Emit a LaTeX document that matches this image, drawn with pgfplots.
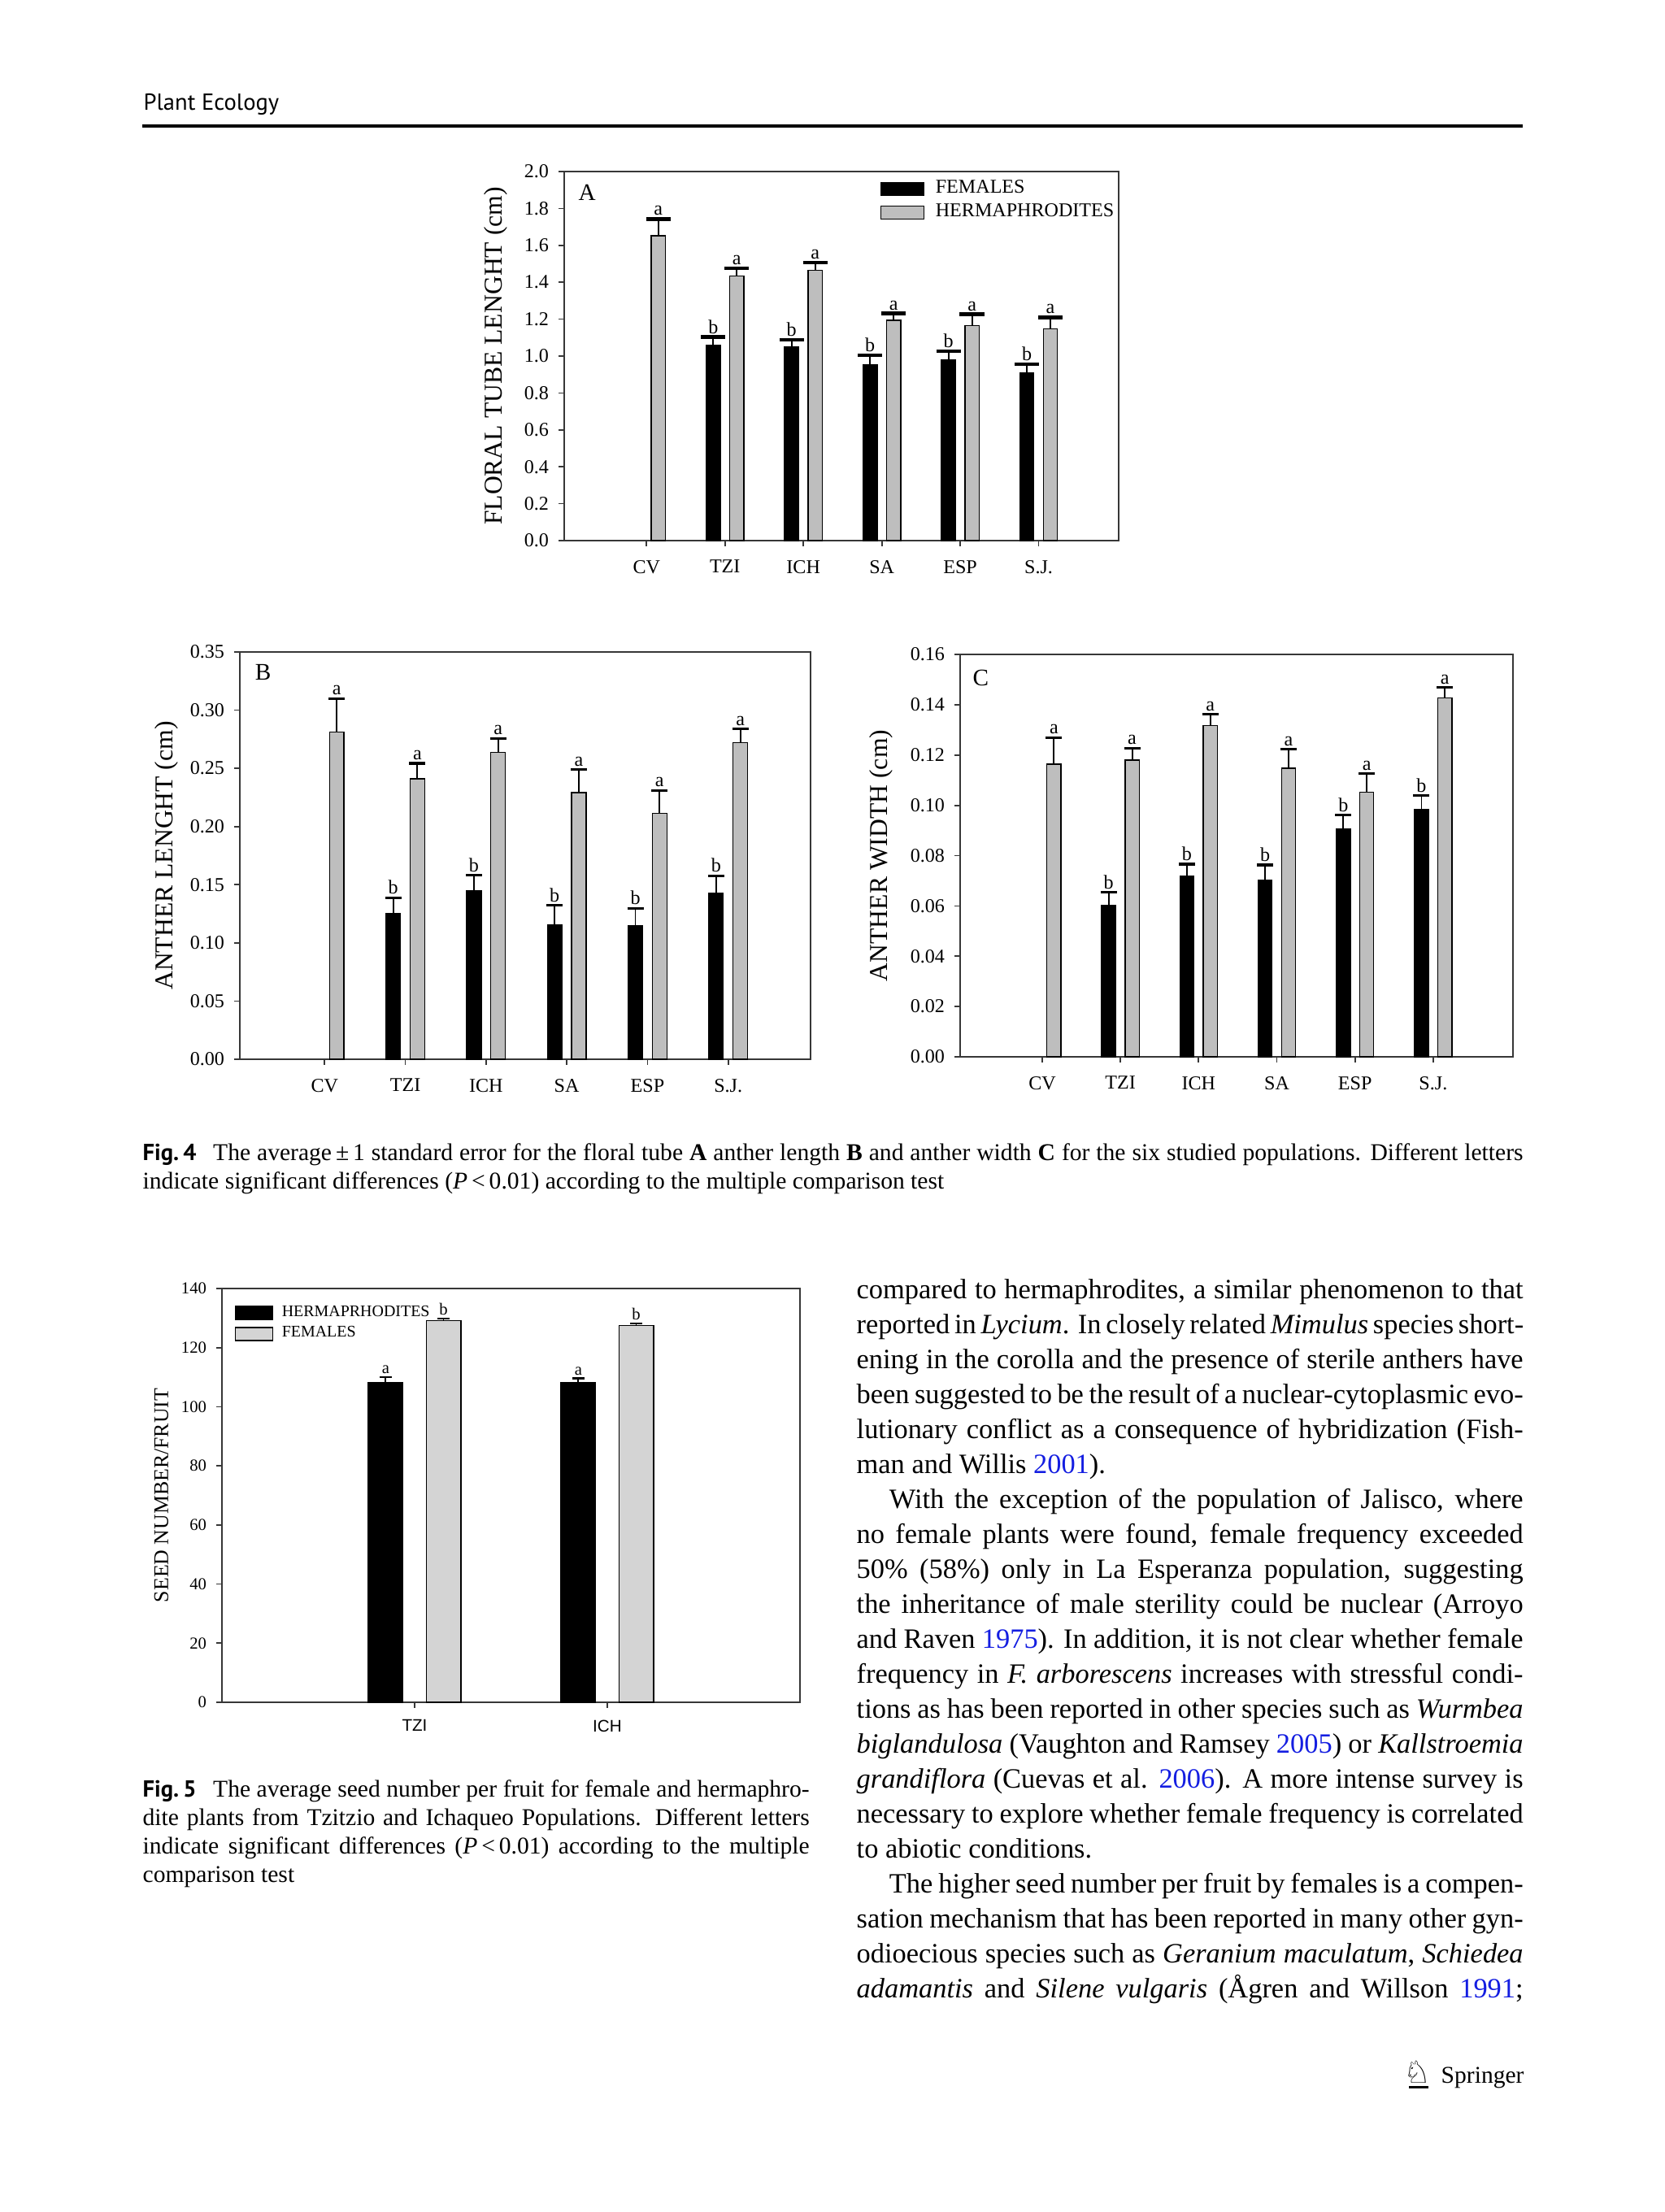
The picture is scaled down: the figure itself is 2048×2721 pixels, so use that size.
\documentclass[border=0pt]{standalone}
\usepackage{fontspec}
\setmainfont{Liberation Serif}
\newfontfamily\headfont{PT Sans}
\newfontfamily\arial{Liberation Sans}
\newfontfamily\dejavu{DejaVu Sans}
\usepackage{pgfplots}
\usepackage{pgfplotstable}
\pgfplotsset{compat=1.18}

\definecolor{hgray}{RGB}{190,190,190}
\definecolor{lgray}{RGB}{212,212,212}
\definecolor{linkblue}{RGB}{20,30,225}
\definecolor{frame}{RGB}{55,55,55}

% floral tube length, A
\pgfplotstableread{
x  v     e
1  1.058 0.046
2  1.049 0.040
3  0.952 0.053
4  0.979 0.048
5  0.908 0.048
}\tubeF
\pgfplotstableread{
x  v     e
0  1.652 0.091
1  1.435 0.042
2  1.466 0.041
3  1.194 0.037
4  1.165 0.062
5  1.148 0.062
}\tubeH
% anther length, B
\pgfplotstableread{
x  v      e
1  0.1252 0.0137
2  0.1448 0.0134
3  0.1154 0.0168
4  0.1146 0.0152
5  0.1427 0.0150
}\lenF
\pgfplotstableread{
x  v      e
0  0.2814 0.0286
1  0.2411 0.0132
2  0.2636 0.0123
3  0.2292 0.0196
4  0.2112 0.0198
5  0.2723 0.0114
}\lenH
% anther width, C
\pgfplotstableread{
x  v      e
1  0.0601 0.0053
2  0.0718 0.0048
3  0.0702 0.0061
4  0.0906 0.0055
5  0.0984 0.0054
}\widF
\pgfplotstableread{
x  v      e
0  0.1164 0.0106
1  0.1180 0.0048
2  0.1317 0.0045
3  0.1148 0.0075
4  0.1053 0.0073
5  0.1427 0.0041
}\widH
% seeds per fruit, Fig. 5
\pgfplotstableread{
x  v     e
1  108.2 1.9
2  108.1 1.5
}\seedH
\pgfplotstableread{
x  v     e
1  129.1 0.8
2  127.5 0.6
}\seedF

\pgfplotsset{
  base/.style={
    scale only axis, anchor=south west, ybar, ymin=0,
    enlargelimits=false, clip=false,
    tick pos=left, tick align=outside, major tick length=2pt,
    axis line style={frame, line width=0.5pt},
    tick style={frame, line width=0.5pt},
    /pgf/number format/assume math mode=true,
    ylabel style={anchor=center},
    legend cell align=left,
  },
  pop/.style={
    xmin=-1.05, xmax=6.02,
    xtick={0,1,2,3,4,5}, xticklabels={CV,TZI,ICH,SA,ESP,S.J.},
    ticklabel style={font=\fontsize{7}{8}\selectfont},
    xticklabel style={yshift=-1.5pt},
    yticklabel style={/pgf/number format/fixed, /pgf/number format/fixed zerofill, /pgf/number format/precision=#1},
    ylabel style={font=\fontsize{9.2}{10}\selectfont},
    every node near coord/.append style={font=\fontsize{7}{8}\selectfont, inner sep=1pt},
  },
  bars/.style n args={4}{
    fill=#1, draw=black, line width=0.4pt, bar width=0.18, bar shift=#2,
    error bars/.cd, y dir=plus, y explicit,
    error bar style={black, line width=0.55pt},
    error mark=-, error mark options={black, rotate=90, line width=#4, mark size=#3},
  },
  tags/.style 2 args={draw=none, fill=none, bar width=0.18, bar shift=#1, nodes near coords={#2}},
}

\newcommand\jl[1]{\hbox to 238.35pt{#1}}
\newcommand\yr[1]{\textcolor{linkblue}{#1}}
\newcommand\figlab[1]{{\headfont\bfseries\fontsize{8.3}{10}\selectfont #1}\hskip 6pt}

\begin{document}
\begin{tikzpicture}
\begin{scope}[x=0.290674pt, y=-0.290674pt]
\fill[white] (0,0) rectangle (2048,2721);
\useasboundingbox (0,0) rectangle (2048,2721);

% running head
\node[anchor=base west, inner sep=0pt, font=\headfont\fontsize{8.3}{10}\selectfont] at (176,135) {Plant Ecology};
\draw[line width=1pt] (175,155) -- (1873,155);

% caption of Fig. 4
\node[anchor=base west, inner sep=0pt] at (175,1427) {\vtop{\fontsize{8.6}{10.2}\selectfont
\hbox to 493.56pt{\figlab{Fig.\kern1.5pt4}The average\,±\,1 standard error for the floral tube \textbf{A} anther length \textbf{B} and anther width \textbf{C} for the six studied populations. Different letters}
\hbox{indicate significant differences (\textit{P}\,<\,0.01) according to the multiple comparison test}}};

% caption of Fig. 5
\node[anchor=base west, inner sep=0pt] at (175,2210) {\vtop{\fontsize{8.6}{10.2}\selectfont
\jl{\figlab{Fig.\kern1.5pt5}The average seed number per fruit for female and hermaphro-}
\jl{dite plants from Tzitzio and Ichaqueo Populations. Different letters}
\jl{indicate significant differences (\textit{P}\,<\,0.01) according to the multiple}
\hbox{comparison test}}};

% running text, right column
\node[anchor=base west, inner sep=0pt] at (1053,1597) {\vtop{\fontsize{10}{12.5}\selectfont
\jl{compared to hermaphrodites, a similar phenomenon to that}
\jl{reported in \textit{Lycium}. In closely related \textit{Mimulus} species short-}
\jl{ening in the corolla and the presence of sterile anthers have}
\jl{been suggested to be the result of a nuclear-cytoplasmic evo-}
\jl{lutionary conflict as a consequence of hybridization (Fish-}
\hbox{man and Willis \yr{2001}).}
\jl{\hskip 11.7pt With the exception of the population of Jalisco, where}
\jl{no female plants were found, female frequency exceeded}
\jl{50\% (58\%) only in La Esperanza population, suggesting}
\jl{the inheritance of male sterility could be nuclear (Arroyo}
\jl{and Raven \yr{1975}). In addition, it is not clear whether female}
\jl{frequency in \textit{F. arborescens} increases with stressful condi-}
\jl{tions as has been reported in other species such as \textit{Wurmbea}}
\jl{\textit{biglandulosa} (Vaughton and Ramsey \yr{2005}) or \textit{Kallstroemia}}
\jl{\textit{grandiflora} (Cuevas et al. \yr{2006}). A more intense survey is}
\jl{necessary to explore whether female frequency is correlated}
\hbox{to abiotic conditions.}
\jl{\hskip 11.7pt The higher seed number per fruit by females is a compen-}
\jl{sation mechanism that has been reported in many other gyn-}
\jl{odioecious species such as \textit{Geranium maculatum}, \textit{Schiedea}}
\jl{\textit{adamantis} and \textit{Silene vulgaris} (Ågren and Willson \yr{1991};}}};

% publisher mark
\node[anchor=base west, inner sep=0pt, font=\dejavu\fontsize{11}{12}\selectfont] at (1726,2562) {♘};
\fill (1733,2566) rectangle (1757,2569);
\node[anchor=base west, inner sep=0pt, font=\fontsize{8.6}{10}\selectfont] at (1772,2562) {Springer};
\end{scope}

% Fig. 4 A
\begin{axis}[base, pop=1, at={(201.73pt,-193.30pt)}, width=198.24pt, height=131.97pt,
  ymax=2.0, ytick={0,0.2,0.4,0.6,0.8,1.0,1.2,1.4,1.6,1.8,2.0},
  ylabel={FLORAL TUBE LENGHT (cm)},
  ylabel style={at={(axis description cs:-0.123,0.5)}},
  legend style={draw=none, fill=none, inner sep=0pt, outer sep=0pt, at={(0.570,0.976)}, anchor=north west,
    font=\fontsize{7}{8}\selectfont, row sep=2.3pt, column sep=4pt, nodes={inner sep=0pt}},
  legend image code/.code={\draw[#1, line width=0.4pt] (0pt,-2.33pt) rectangle (15.4pt,2.33pt);},
]
\addplot[bars={black}{-0.15}{4.4pt}{1.3pt}] table[x=x, y=v, y error=e] \tubeF;
\addplot[bars={hgray}{0.15}{4.4pt}{1.3pt}] table[x=x, y=v, y error=e] \tubeH;
\addplot[tags={-0.15}{b}] table[x=x, y expr=\thisrow{v}+\thisrow{e}] \tubeF;
\addplot[tags={0.15}{a}] table[x=x, y expr=\thisrow{v}+\thisrow{e}] \tubeH;
\legend{FEMALES, HERMAPHRODITES}
\node[anchor=north west, inner sep=0pt, font=\fontsize{8.5}{9}\selectfont] at (rel axis cs:0.025,0.965) {A};
\end{axis}

% Fig. 4 B
\begin{axis}[base, pop=2, at={(85.75pt,-378.75pt)}, width=204.05pt, height=145.63pt,
  ymax=0.35, ytick={0,0.05,0.10,0.15,0.20,0.25,0.30,0.35},
  ylabel={ANTHER LENGHT (cm)},
  ylabel style={at={(axis description cs:-0.128,0.5)}},
]
\addplot[bars={black}{-0.15}{2.9pt}{0.9pt}] table[x=x, y=v, y error=e] \lenF;
\addplot[bars={hgray}{0.15}{2.9pt}{0.9pt}] table[x=x, y=v, y error=e] \lenH;
\addplot[tags={-0.15}{b}] table[x=x, y expr=\thisrow{v}+\thisrow{e}] \lenF;
\addplot[tags={0.15}{a}] table[x=x, y expr=\thisrow{v}+\thisrow{e}] \lenH;
\node[anchor=north west, inner sep=0pt, font=\fontsize{8.5}{9}\selectfont] at (rel axis cs:0.026,0.97) {B};
\end{axis}

% Fig. 4 C
\begin{axis}[base, pop=2, at={(343.29pt,-377.88pt)}, width=197.66pt, height=143.88pt,
  ymax=0.16, ytick={0,0.02,0.04,0.06,0.08,0.10,0.12,0.14,0.16},
  ylabel={ANTHER WIDTH (cm)},
  ylabel style={at={(axis description cs:-0.143,0.5)}},
]
\addplot[bars={black}{-0.15}{2.9pt}{0.9pt}] table[x=x, y=v, y error=e] \widF;
\addplot[bars={hgray}{0.15}{2.9pt}{0.9pt}] table[x=x, y=v, y error=e] \widH;
\addplot[tags={-0.15}{b}] table[x=x, y expr=\thisrow{v}+\thisrow{e}] \widF;
\addplot[tags={0.15}{a}] table[x=x, y expr=\thisrow{v}+\thisrow{e}] \widH;
\node[anchor=north west, inner sep=0pt, font=\fontsize{8.5}{9}\selectfont] at (rel axis cs:0.022,0.962) {C};
\end{axis}

% Fig. 5
\begin{axis}[base, at={(79.35pt,-608.67pt)}, width=206.67pt, height=147.95pt,
  xmin=0, xmax=3, xtick={1,2}, xticklabels={TZI,ICH},
  ymax=140, ytick={0,20,40,60,80,100,120,140},
  ticklabel style={font=\fontsize{6}{7}\selectfont},
  xticklabel style={font=\arial\fontsize{6}{7}\selectfont, yshift=-0.8pt},
  ylabel={SEED NUMBER/FRUIT},
  ylabel style={font=\fontsize{7.5}{8}\selectfont, at={(axis description cs:-0.105,0.5)}},
  every node near coord/.append style={font=\fontsize{6}{7}\selectfont, inner sep=1pt},
  legend style={draw=none, fill=none, inner sep=0pt, outer sep=0pt, at={(0.0225,0.959)}, anchor=north west,
    font=\fontsize{5.8}{7}\selectfont, row sep=2.15pt, column sep=3pt, nodes={inner sep=0pt}},
  legend image code/.code={\draw[#1, line width=0.4pt] (0pt,-2.33pt) rectangle (13.4pt,2.33pt);},
]
\addplot[bars={black}{-0.15}{2.2pt}{0.6pt}] table[x=x, y=v, y error=e] \seedH;
\addplot[bars={lgray}{0.15}{2.2pt}{0.6pt}] table[x=x, y=v, y error=e] \seedF;
\addplot[tags={-0.15}{a}] table[x=x, y expr=\thisrow{v}+\thisrow{e}] \seedH;
\addplot[tags={0.15}{b}] table[x=x, y expr=\thisrow{v}+\thisrow{e}] \seedF;
\legend{HERMAPRHODITES, FEMALES}
\end{axis}
\end{tikzpicture}
\end{document}
